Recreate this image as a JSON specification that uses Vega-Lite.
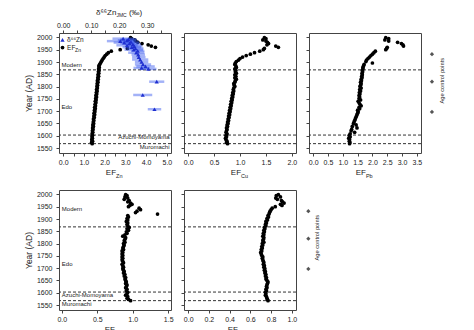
{
"$schema": "https://vega.github.io/schema/vega-lite/v6.json",
"padding": {"left": 23, "top": 8, "right": 5, "bottom": 0},
"background": "white",
"config": {
  "view": {"stroke": "#444", "strokeWidth": 1},
  "axis": {"domain": false, "grid": false, "ticks": true, "tickColor": "#444", "tickSize": 3, "tickCount": 50, "labelFont": "Liberation Sans", "labelFontSize": 7, "labelColor": "#222", "labelFlush": false, "labelOverlap": false, "labelBound": false, "titleFont": "Liberation Sans", "titleFontWeight": "normal", "titleColor": "#222", "titleFontSize": 8.5},
  "axisX": {"labelPadding": 2},
  "axisY": {"labelPadding": 4, "titlePadding": 3},
  "text": {"font": "Liberation Sans", "color": "#222"}
},
"datasets": {
  "bounds": [{"year": 1868}, {"year": 1603}, {"year": 1568}],
  "ages": [{"year": 1932}, {"year": 1820}, {"year": 1697}],
  "samples": [
    {"year":1568,"zn":1.40,"cu":0.76,"pb":1.23,"e4":0.97,"e5":0.77},
    {"year":1573,"zn":1.37,"cu":0.74,"pb":1.24,"e4":0.94,"e5":0.765},
    {"year":1578,"zn":1.42,"cu":0.75,"pb":1.22,"e4":0.92,"e5":0.76},
    {"year":1584,"zn":1.38,"cu":0.73,"pb":1.23,"e4":0.93,"e5":0.755},
    {"year":1590,"zn":1.41,"cu":0.72,"pb":1.20,"e4":0.90,"e5":0.745},
    {"year":1596,"zn":1.39,"cu":0.74,"pb":1.25,"e4":0.92,"e5":0.75},
    {"year":1602,"zn":1.42,"cu":0.73,"pb":1.22,"e4":0.93,"e5":0.745},
    {"year":1608,"zn":1.40,"cu":0.75,"pb":1.25,"e4":0.91,"e5":0.755},
    {"year":1614,"zn":1.43,"cu":0.73,"pb":1.40,"e4":0.92,"e5":0.75},
    {"year":1620,"zn":1.41,"cu":0.74,"pb":1.28,"e4":0.90,"e5":0.76},
    {"year":1626,"zn":1.44,"cu":0.75,"pb":1.30,"e4":0.91,"e5":0.755},
    {"year":1632,"zn":1.42,"cu":0.74,"pb":1.48,"e4":0.92,"e5":0.76},
    {"year":1638,"zn":1.46,"cu":0.76,"pb":1.32,"e4":0.90,"e5":0.765},
    {"year":1644,"zn":1.43,"cu":0.75,"pb":1.45,"e4":0.91,"e5":0.77},
    {"year":1650,"zn":1.47,"cu":0.77,"pb":1.36,"e4":0.90,"e5":0.76},
    {"year":1656,"zn":1.45,"cu":0.76,"pb":1.38,"e4":0.89,"e5":0.75},
    {"year":1662,"zn":1.48,"cu":0.78,"pb":1.40,"e4":0.90,"e5":0.755},
    {"year":1668,"zn":1.46,"cu":0.77,"pb":1.42,"e4":0.88,"e5":0.745},
    {"year":1674,"zn":1.50,"cu":0.79,"pb":1.44,"e4":0.89,"e5":0.75},
    {"year":1680,"zn":1.48,"cu":0.78,"pb":1.46,"e4":0.87,"e5":0.74},
    {"year":1686,"zn":1.52,"cu":0.80,"pb":1.48,"e4":0.88,"e5":0.745},
    {"year":1692,"zn":1.49,"cu":0.79,"pb":1.50,"e4":0.87,"e5":0.735},
    {"year":1698,"zn":1.53,"cu":0.81,"pb":1.52,"e4":0.86,"e5":0.74},
    {"year":1704,"zn":1.51,"cu":0.80,"pb":1.50,"e4":0.87,"e5":0.73},
    {"year":1710,"zn":1.55,"cu":0.82,"pb":1.57,"e4":0.86,"e5":0.735},
    {"year":1716,"zn":1.52,"cu":0.81,"pb":1.55,"e4":0.85,"e5":0.725},
    {"year":1722,"zn":1.56,"cu":0.83,"pb":1.62,"e4":0.87,"e5":0.73},
    {"year":1728,"zn":1.54,"cu":0.82,"pb":1.58,"e4":0.86,"e5":0.725},
    {"year":1734,"zn":1.58,"cu":0.84,"pb":1.55,"e4":0.85,"e5":0.72},
    {"year":1740,"zn":1.55,"cu":0.83,"pb":1.52,"e4":0.86,"e5":0.715},
    {"year":1746,"zn":1.59,"cu":0.85,"pb":1.60,"e4":0.85,"e5":0.72},
    {"year":1752,"zn":1.57,"cu":0.84,"pb":1.55,"e4":0.86,"e5":0.71},
    {"year":1758,"zn":1.61,"cu":0.86,"pb":1.57,"e4":0.85,"e5":0.705},
    {"year":1764,"zn":1.58,"cu":0.85,"pb":1.55,"e4":0.86,"e5":0.70},
    {"year":1770,"zn":1.62,"cu":0.87,"pb":1.58,"e4":0.85,"e5":0.71},
    {"year":1776,"zn":1.60,"cu":0.86,"pb":1.56,"e4":0.87,"e5":0.705},
    {"year":1782,"zn":1.64,"cu":0.88,"pb":1.60,"e4":0.86,"e5":0.715},
    {"year":1788,"zn":1.61,"cu":0.87,"pb":1.57,"e4":0.87,"e5":0.71},
    {"year":1794,"zn":1.65,"cu":0.88,"pb":1.62,"e4":0.88,"e5":0.72},
    {"year":1800,"zn":1.63,"cu":0.90,"pb":1.58,"e4":0.87,"e5":0.715},
    {"year":1806,"zn":1.66,"cu":0.89,"pb":1.60,"e4":0.89,"e5":0.73},
    {"year":1812,"zn":1.64,"cu":0.88,"pb":1.62,"e4":0.88,"e5":0.72},
    {"year":1818,"zn":1.68,"cu":0.90,"pb":1.60,"e4":0.89,"e5":0.725},
    {"year":1824,"zn":1.65,"cu":0.91,"pb":1.63,"e4":0.90,"e5":0.73},
    {"year":1830,"zn":1.69,"cu":0.93,"pb":1.62,"e4":0.86,"e5":0.72},
    {"year":1836,"zn":1.67,"cu":0.90,"pb":1.65,"e4":0.89,"e5":0.73},
    {"year":1842,"zn":1.71,"cu":0.92,"pb":1.64,"e4":0.92,"e5":0.725},
    {"year":1848,"zn":1.68,"cu":0.90,"pb":1.66,"e4":0.91,"e5":0.735},
    {"year":1854,"zn":1.72,"cu":0.93,"pb":1.65,"e4":0.94,"e5":0.73},
    {"year":1860,"zn":1.70,"cu":0.91,"pb":1.67,"e4":0.92,"e5":0.74},
    {"year":1866,"zn":1.73,"cu":0.92,"pb":1.66,"e4":0.95,"e5":0.735},
    {"year":1872,"zn":1.71,"cu":0.90,"pb":1.68,"e4":0.93,"e5":0.75},
    {"year":1878,"zn":1.74,"cu":0.93,"pb":1.68,"e4":0.92,"e5":0.745},
    {"year":1884,"zn":1.72,"cu":0.92,"pb":1.70,"e4":0.93,"e5":0.755},
    {"year":1890,"zn":1.76,"cu":0.90,"pb":1.72,"e4":0.91,"e5":0.75},
    {"year":1896,"zn":1.80,"cu":0.91,"pb":2.00,"e4":0.93,"e5":0.765},
    {"year":1902,"zn":1.84,"cu":0.93,"pb":1.78,"e4":0.92,"e5":0.76},
    {"year":1908,"zn":1.88,"cu":0.97,"pb":1.80,"e4":0.94,"e5":0.775},
    {"year":1914,"zn":1.93,"cu":1.00,"pb":1.85,"e4":0.93,"e5":0.77},
    {"year":1920,"zn":1.98,"cu":1.05,"pb":1.90,"e4":1.35,"e5":0.78},
    {"year":1926,"zn":2.03,"cu":1.12,"pb":1.95,"e4":1.04,"e5":0.785},
    {"year":1932,"zn":2.10,"cu":1.20,"pb":2.00,"e4":1.06,"e5":0.79},
    {"year":1938,"zn":2.18,"cu":1.28,"pb":2.05,"e4":1.11,"e5":0.80},
    {"year":1944,"zn":2.32,"cu":1.38,"pb":2.10,"e4":1.09,"e5":0.81},
    {"year":1950,"zn":2.75,"cu":1.45,"pb":2.45,"e4":0.94,"e5":0.84},
    {"year":1955,"zn":3.10,"cu":1.47,"pb":2.48,"e4":0.96,"e5":0.905},
    {"year":1960,"zn":4.45,"cu":1.74,"pb":2.50,"e4":0.99,"e5":0.89},
    {"year":1965,"zn":4.25,"cu":1.69,"pb":3.05,"e4":0.97,"e5":0.925},
    {"year":1970,"zn":4.10,"cu":1.52,"pb":3.03,"e4":0.93,"e5":0.91},
    {"year":1975,"zn":3.80,"cu":1.55,"pb":2.98,"e4":0.95,"e5":0.90},
    {"year":1980,"zn":3.60,"cu":1.53,"pb":2.85,"e4":0.88,"e5":0.86},
    {"year":1985,"zn":3.50,"cu":1.50,"pb":2.55,"e4":0.93,"e5":0.845},
    {"year":1990,"zn":3.45,"cu":1.44,"pb":2.42,"e4":0.89,"e5":0.89},
    {"year":1995,"zn":3.30,"cu":1.50,"pb":2.55,"e4":0.92,"e5":0.85},
    {"year":1999,"zn":3.25,"cu":1.47,"pb":2.45,"e4":0.90,"e5":0.87}
  ],
  "delta": [
    {"year":1995,"d":0.214,"lo":0.176,"hi":0.252},
    {"year":1992,"d":0.233,"lo":0.204,"hi":0.262},
    {"year":1988,"d":0.228,"lo":0.195,"hi":0.261},
    {"year":1985,"d":0.204,"lo":0.156,"hi":0.252},
    {"year":1982,"d":0.242,"lo":0.213,"hi":0.271},
    {"year":1979,"d":0.218,"lo":0.180,"hi":0.256},
    {"year":1976,"d":0.237,"lo":0.204,"hi":0.270},
    {"year":1972,"d":0.249,"lo":0.220,"hi":0.278},
    {"year":1968,"d":0.228,"lo":0.190,"hi":0.266},
    {"year":1964,"d":0.254,"lo":0.225,"hi":0.283},
    {"year":1960,"d":0.245,"lo":0.212,"hi":0.278},
    {"year":1955,"d":0.258,"lo":0.229,"hi":0.287},
    {"year":1950,"d":0.252,"lo":0.219,"hi":0.285},
    {"year":1945,"d":0.266,"lo":0.242,"hi":0.290},
    {"year":1938,"d":0.261,"lo":0.232,"hi":0.290},
    {"year":1930,"d":0.268,"lo":0.244,"hi":0.292},
    {"year":1920,"d":0.270,"lo":0.246,"hi":0.294},
    {"year":1910,"d":0.275,"lo":0.246,"hi":0.304},
    {"year":1900,"d":0.280,"lo":0.256,"hi":0.304},
    {"year":1890,"d":0.285,"lo":0.256,"hi":0.314},
    {"year":1882,"d":0.294,"lo":0.261,"hi":0.327},
    {"year":1876,"d":0.280,"lo":0.251,"hi":0.309},
    {"year":1872,"d":0.304,"lo":0.275,"hi":0.333},
    {"year":1820,"d":0.334,"lo":0.307,"hi":0.361},
    {"year":1766,"d":0.284,"lo":0.250,"hi":0.318},
    {"year":1708,"d":0.326,"lo":0.302,"hi":0.350}
  ]
},
"columns": 3,
"spacing": {"row": 37, "column": 13},
"bounds": "flush",
"concat": [
  {
    "width": 112, "height": 120,
    "resolve": {"scale": {"x": "independent"}, "axis": {"x": "independent"}},
    "layer": [
      {"layer": [
        {"data": {"name": "bounds"}, "mark": {"type": "rule", "strokeDash": [3, 2], "color": "#333", "strokeWidth": 1},
         "encoding": {"y": {"field": "year", "type": "quantitative", "scale": {"domain": [1530, 2018], "nice": false, "zero": false}}}},
        {"data": {"name": "samples"}, "mark": {"type": "point", "filled": true, "size": 14, "color": "#000", "opacity": 1},
         "encoding": {
           "x": {"field": "zn", "type": "quantitative", "scale": {"domain": [-0.2, 5.2], "nice": false, "zero": false}, "axis": {"orient": "bottom", "tickCount": 50, "labelOverlap": false, "values": [0, 0.5, 1, 1.5, 2, 2.5, 3, 3.5, 4, 4.5, 5], "labelExpr": "datum.value % 1 == 0 ? format(datum.value, '.1f') : ''", "title": null}},
           "y": {"field": "year", "type": "quantitative", "scale": {"domain": [1530, 2018], "nice": false, "zero": false}, "axis": {"tickCount": 50, "labelOverlap": false, "values": [1550, 1600, 1650, 1700, 1750, 1800, 1850, 1900, 1950, 2000], "format": "d", "title": "Year (AD)"}}}},
        {"data": {"values": [{"label": "Modern", "year": 1888}, {"label": "Edo", "year": 1717}]}, "mark": {"type": "text", "align": "left", "baseline": "middle", "fontSize": 6},
         "encoding": {"x": {"datum": -0.08, "type": "quantitative", "scale": {"domain": [-0.2, 5.2], "nice": false, "zero": false}},
                      "y": {"field": "year", "type": "quantitative", "scale": {"domain": [1530, 2018], "nice": false, "zero": false}},
                      "text": {"field": "label"}}},
        {"data": {"values": [{"label": "Azuchi-Momoyama", "year": 1595}, {"label": "Muromachi", "year": 1554}]}, "mark": {"type": "text", "align": "right", "baseline": "middle", "fontSize": 6},
         "encoding": {"x": {"datum": 5.13, "type": "quantitative", "scale": {"domain": [-0.2, 5.2], "nice": false, "zero": false}},
                      "y": {"field": "year", "type": "quantitative", "scale": {"domain": [1530, 2018], "nice": false, "zero": false}},
                      "text": {"field": "label"}}},
        {"data": {"values": [{"t": "EF"}]}, "mark": {"type": "text", "align": "right", "baseline": "middle", "fontSize": 8, "dy": 20},
         "encoding": {"x": {"datum": 2.55, "type": "quantitative", "scale": {"domain": [-0.2, 5.2], "nice": false, "zero": false}},
                      "y": {"datum": 1530, "type": "quantitative", "scale": {"domain": [1530, 2018], "nice": false, "zero": false}},
                      "text": {"field": "t"}}},
        {"data": {"values": [{"t": "Zn"}]}, "mark": {"type": "text", "align": "left", "baseline": "middle", "fontSize": 5.5, "dy": 23},
         "encoding": {"x": {"datum": 2.55, "type": "quantitative", "scale": {"domain": [-0.2, 5.2], "nice": false, "zero": false}},
                      "y": {"datum": 1530, "type": "quantitative", "scale": {"domain": [1530, 2018], "nice": false, "zero": false}},
                      "text": {"field": "t"}}},
        {"data": {"values": [{"s": "d"}]}, "mark": {"type": "point", "shape": "triangle-up", "filled": true, "size": 18, "color": "#1f2fd0", "opacity": 1},
         "encoding": {"x": {"datum": -0.03, "type": "quantitative", "scale": {"domain": [-0.2, 5.2], "nice": false, "zero": false}},
                      "y": {"datum": 1990, "type": "quantitative", "scale": {"domain": [1530, 2018], "nice": false, "zero": false}}}},
        {"data": {"values": [{"s": "e"}]}, "mark": {"type": "point", "filled": true, "size": 14, "color": "#000", "opacity": 1},
         "encoding": {"x": {"datum": -0.03, "type": "quantitative", "scale": {"domain": [-0.2, 5.2], "nice": false, "zero": false}},
                      "y": {"datum": 1959, "type": "quantitative", "scale": {"domain": [1530, 2018], "nice": false, "zero": false}}}},
        {"data": {"values": [{"t": "δ⁶⁶Zn", "year": 1990}, {"t": "EF", "year": 1959}]}, "mark": {"type": "text", "align": "left", "baseline": "middle", "fontSize": 6.5},
         "encoding": {"x": {"datum": 0.19, "type": "quantitative", "scale": {"domain": [-0.2, 5.2], "nice": false, "zero": false}},
                      "y": {"field": "year", "type": "quantitative", "scale": {"domain": [1530, 2018], "nice": false, "zero": false}},
                      "text": {"field": "t"}}},
        {"data": {"values": [{"t": "Zn"}]}, "mark": {"type": "text", "align": "left", "baseline": "middle", "fontSize": 5, "dx": 8, "dy": 2},
         "encoding": {"x": {"datum": 0.19, "type": "quantitative", "scale": {"domain": [-0.2, 5.2], "nice": false, "zero": false}},
                      "y": {"datum": 1959, "type": "quantitative", "scale": {"domain": [1530, 2018], "nice": false, "zero": false}},
                      "text": {"field": "t"}}}
      ]},
      {"layer": [
        {"data": {"name": "delta"}, "mark": {"type": "rule", "color": "#3355ee", "strokeWidth": 2.5, "opacity": 0.45},
         "encoding": {"x": {"field": "lo", "type": "quantitative", "scale": {"domain": [-0.015, 0.385], "nice": false, "zero": false}, "axis": {"orient": "top", "tickCount": 50, "labelOverlap": false, "values": [0, 0.05, 0.1, 0.15, 0.2, 0.25, 0.3, 0.35, 0.4], "labelExpr": "(datum.value == 0 || datum.value == 0.1 || datum.value == 0.2 || datum.value == 0.3) ? format(datum.value, '.2f') : ''", "title": null}},
                      "x2": {"field": "hi"},
                      "y": {"field": "year", "type": "quantitative", "scale": {"domain": [1530, 2018], "nice": false, "zero": false}}}},
        {"data": {"name": "delta"}, "mark": {"type": "point", "shape": "triangle-up", "filled": true, "size": 18, "color": "#1f2fd0", "opacity": 1},
         "encoding": {"x": {"field": "d", "type": "quantitative", "scale": {"domain": [-0.015, 0.385], "nice": false, "zero": false}},
                      "y": {"field": "year", "type": "quantitative", "scale": {"domain": [1530, 2018], "nice": false, "zero": false}}}},
        {"data": {"values": [{"t": "δ⁶⁶Zn"}]}, "mark": {"type": "text", "align": "right", "baseline": "middle", "fontSize": 8, "dy": -20},
         "encoding": {"x": {"datum": 0.19, "type": "quantitative", "scale": {"domain": [-0.015, 0.385], "nice": false, "zero": false}},
                      "y": {"datum": 2018, "type": "quantitative", "scale": {"domain": [1530, 2018], "nice": false, "zero": false}},
                      "text": {"field": "t"}}},
        {"data": {"values": [{"t": "JMC"}]}, "mark": {"type": "text", "align": "left", "baseline": "middle", "fontSize": 5, "dy": -18},
         "encoding": {"x": {"datum": 0.19, "type": "quantitative", "scale": {"domain": [-0.015, 0.385], "nice": false, "zero": false}},
                      "y": {"datum": 2018, "type": "quantitative", "scale": {"domain": [1530, 2018], "nice": false, "zero": false}},
                      "text": {"field": "t"}}},
        {"data": {"values": [{"t": "(‰)"}]}, "mark": {"type": "text", "align": "left", "baseline": "middle", "fontSize": 8, "dy": -20, "dx": 12.5},
         "encoding": {"x": {"datum": 0.19, "type": "quantitative", "scale": {"domain": [-0.015, 0.385], "nice": false, "zero": false}},
                      "y": {"datum": 2018, "type": "quantitative", "scale": {"domain": [1530, 2018], "nice": false, "zero": false}},
                      "text": {"field": "t"}}}
      ]}
    ]
  },
  {
    "width": 112, "height": 120,
    "layer": [
      {"data": {"name": "bounds"}, "mark": {"type": "rule", "strokeDash": [3, 2], "color": "#333", "strokeWidth": 1},
       "encoding": {"y": {"field": "year", "type": "quantitative", "scale": {"domain": [1530, 2018], "nice": false, "zero": false}}}},
      {"data": {"name": "samples"}, "mark": {"type": "point", "filled": true, "size": 14, "color": "#000", "opacity": 1},
       "encoding": {
         "x": {"field": "cu", "type": "quantitative", "scale": {"domain": [-0.08, 2.08], "nice": false, "zero": false}, "axis": {"tickCount": 50, "labelOverlap": false, "values": [0, 0.5, 1, 1.5, 2], "format": ".1f", "title": null}},
         "y": {"field": "year", "type": "quantitative", "scale": {"domain": [1530, 2018], "nice": false, "zero": false}, "axis": {"tickCount": 50, "values": [1550, 1600, 1650, 1700, 1750, 1800, 1850, 1900, 1950, 2000], "labels": false, "title": null}}}},
      {"data": {"values": [{"t": "EF"}]}, "mark": {"type": "text", "align": "right", "baseline": "middle", "fontSize": 8, "dy": 20},
       "encoding": {"x": {"datum": 1.02, "type": "quantitative", "scale": {"domain": [-0.08, 2.08], "nice": false, "zero": false}},
                    "y": {"datum": 1530, "type": "quantitative", "scale": {"domain": [1530, 2018], "nice": false, "zero": false}},
                    "text": {"field": "t"}}},
      {"data": {"values": [{"t": "Cu"}]}, "mark": {"type": "text", "align": "left", "baseline": "middle", "fontSize": 5.5, "dy": 23},
       "encoding": {"x": {"datum": 1.02, "type": "quantitative", "scale": {"domain": [-0.08, 2.08], "nice": false, "zero": false}},
                    "y": {"datum": 1530, "type": "quantitative", "scale": {"domain": [1530, 2018], "nice": false, "zero": false}},
                    "text": {"field": "t"}}}
    ]
  },
  {
    "width": 112, "height": 120,
    "layer": [
      {"data": {"name": "bounds"}, "mark": {"type": "rule", "strokeDash": [3, 2], "color": "#333", "strokeWidth": 1},
       "encoding": {"y": {"field": "year", "type": "quantitative", "scale": {"domain": [1530, 2018], "nice": false, "zero": false}}}},
      {"data": {"name": "samples"}, "mark": {"type": "point", "filled": true, "size": 14, "color": "#000", "opacity": 1},
       "encoding": {
         "x": {"field": "pb", "type": "quantitative", "scale": {"domain": [-0.14, 3.64], "nice": false, "zero": false}, "axis": {"tickCount": 50, "labelOverlap": false, "values": [0, 0.5, 1, 1.5, 2, 2.5, 3, 3.5], "format": ".1f", "title": null}},
         "y": {"field": "year", "type": "quantitative", "scale": {"domain": [1530, 2018], "nice": false, "zero": false}, "axis": {"tickCount": 50, "values": [1550, 1600, 1650, 1700, 1750, 1800, 1850, 1900, 1950, 2000], "labels": false, "title": null}}}},
      {"data": {"values": [{"t": "EF"}]}, "mark": {"type": "text", "align": "right", "baseline": "middle", "fontSize": 8, "dy": 20},
       "encoding": {"x": {"datum": 1.78, "type": "quantitative", "scale": {"domain": [-0.14, 3.64], "nice": false, "zero": false}},
                    "y": {"datum": 1530, "type": "quantitative", "scale": {"domain": [1530, 2018], "nice": false, "zero": false}},
                    "text": {"field": "t"}}},
      {"data": {"values": [{"t": "Pb"}]}, "mark": {"type": "text", "align": "left", "baseline": "middle", "fontSize": 5.5, "dy": 23},
       "encoding": {"x": {"datum": 1.78, "type": "quantitative", "scale": {"domain": [-0.14, 3.64], "nice": false, "zero": false}},
                    "y": {"datum": 1530, "type": "quantitative", "scale": {"domain": [1530, 2018], "nice": false, "zero": false}},
                    "text": {"field": "t"}}},
      {"data": {"name": "ages"}, "mark": {"type": "point", "shape": "diamond", "filled": true, "size": 18, "color": "#555", "opacity": 1},
       "encoding": {"x": {"datum": 4.01, "type": "quantitative", "scale": {"domain": [-0.14, 3.64], "nice": false, "zero": false}},
                    "y": {"field": "year", "type": "quantitative", "scale": {"domain": [1530, 2018], "nice": false, "zero": false}}}},
      {"data": {"values": [{"t": "Age control points"}]}, "mark": {"type": "text", "align": "center", "baseline": "middle", "fontSize": 5.7, "angle": 270},
       "encoding": {"x": {"datum": 4.35, "type": "quantitative", "scale": {"domain": [-0.14, 3.64], "nice": false, "zero": false}},
                    "y": {"datum": 1824, "type": "quantitative", "scale": {"domain": [1530, 2018], "nice": false, "zero": false}},
                    "text": {"field": "t"}}}
    ]
  },
  {
    "width": 112, "height": 120,
    "layer": [
      {"data": {"name": "bounds"}, "mark": {"type": "rule", "strokeDash": [3, 2], "color": "#333", "strokeWidth": 1},
       "encoding": {"y": {"field": "year", "type": "quantitative", "scale": {"domain": [1530, 2018], "nice": false, "zero": false}}}},
      {"data": {"name": "samples"}, "mark": {"type": "point", "filled": true, "size": 14, "color": "#000", "opacity": 1},
       "encoding": {
         "x": {"field": "e4", "type": "quantitative", "scale": {"domain": [-0.04, 1.54], "nice": false, "zero": false}, "axis": {"tickCount": 50, "labelOverlap": false, "values": [0, 0.5, 1, 1.5], "format": ".1f", "title": null}},
         "y": {"field": "year", "type": "quantitative", "scale": {"domain": [1530, 2018], "nice": false, "zero": false}, "axis": {"tickCount": 50, "labelOverlap": false, "values": [1550, 1600, 1650, 1700, 1750, 1800, 1850, 1900, 1950, 2000], "format": "d", "title": "Year (AD)"}}}},
      {"data": {"values": [{"label": "Modern", "year": 1939}, {"label": "Edo", "year": 1718}, {"label": "Azuchi-Momoyama", "year": 1591}, {"label": "Muromachi", "year": 1553}]}, "mark": {"type": "text", "align": "left", "baseline": "middle", "fontSize": 6},
       "encoding": {"x": {"datum": 0.0, "type": "quantitative", "scale": {"domain": [-0.04, 1.54], "nice": false, "zero": false}},
                    "y": {"field": "year", "type": "quantitative", "scale": {"domain": [1530, 2018], "nice": false, "zero": false}},
                    "text": {"field": "label"}}},
      {"data": {"values": [{"t": "EF"}]}, "mark": {"type": "text", "align": "right", "baseline": "middle", "fontSize": 8, "dy": 20},
       "encoding": {"x": {"datum": 0.75, "type": "quantitative", "scale": {"domain": [-0.04, 1.54], "nice": false, "zero": false}},
                    "y": {"datum": 1530, "type": "quantitative", "scale": {"domain": [1530, 2018], "nice": false, "zero": false}},
                    "text": {"field": "t"}}}
    ]
  },
  {
    "width": 112, "height": 120,
    "layer": [
      {"data": {"name": "bounds"}, "mark": {"type": "rule", "strokeDash": [3, 2], "color": "#333", "strokeWidth": 1},
       "encoding": {"y": {"field": "year", "type": "quantitative", "scale": {"domain": [1530, 2018], "nice": false, "zero": false}}}},
      {"data": {"name": "samples"}, "mark": {"type": "point", "filled": true, "size": 14, "color": "#000", "opacity": 1},
       "encoding": {
         "x": {"field": "e5", "type": "quantitative", "scale": {"domain": [-0.04, 1.04], "nice": false, "zero": false}, "axis": {"tickCount": 50, "labelOverlap": false, "values": [0, 0.2, 0.4, 0.6, 0.8, 1], "format": ".1f", "title": null}},
         "y": {"field": "year", "type": "quantitative", "scale": {"domain": [1530, 2018], "nice": false, "zero": false}, "axis": {"tickCount": 50, "values": [1550, 1600, 1650, 1700, 1750, 1800, 1850, 1900, 1950, 2000], "labels": false, "title": null}}}},
      {"data": {"values": [{"t": "EF"}]}, "mark": {"type": "text", "align": "right", "baseline": "middle", "fontSize": 8, "dy": 20},
       "encoding": {"x": {"datum": 0.48, "type": "quantitative", "scale": {"domain": [-0.04, 1.04], "nice": false, "zero": false}},
                    "y": {"datum": 1530, "type": "quantitative", "scale": {"domain": [1530, 2018], "nice": false, "zero": false}},
                    "text": {"field": "t"}}},
      {"data": {"name": "ages"}, "mark": {"type": "point", "shape": "diamond", "filled": true, "size": 18, "color": "#555", "opacity": 1},
       "encoding": {"x": {"datum": 1.159, "type": "quantitative", "scale": {"domain": [-0.04, 1.04], "nice": false, "zero": false}},
                    "y": {"field": "year", "type": "quantitative", "scale": {"domain": [1530, 2018], "nice": false, "zero": false}}}},
      {"data": {"values": [{"t": "Age control points"}]}, "mark": {"type": "text", "align": "center", "baseline": "middle", "fontSize": 5.7, "angle": 270},
       "encoding": {"x": {"datum": 1.238, "type": "quantitative", "scale": {"domain": [-0.04, 1.04], "nice": false, "zero": false}},
                    "y": {"datum": 1824, "type": "quantitative", "scale": {"domain": [1530, 2018], "nice": false, "zero": false}},
                    "text": {"field": "t"}}}
    ]
  }
]
}
